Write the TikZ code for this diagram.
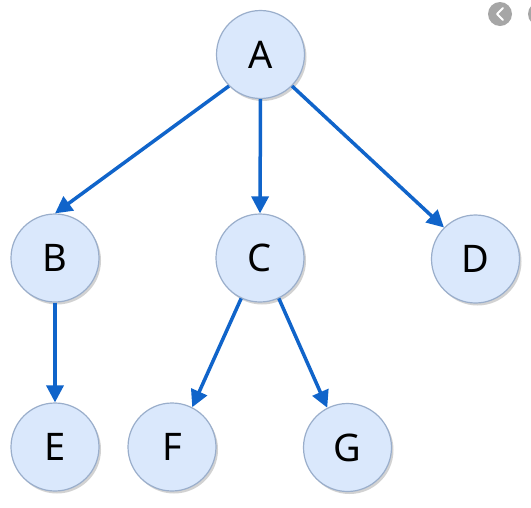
\documentclass[tikz,border=0pt]{standalone}
\usepackage{fontspec}
\setmainfont{Noto Sans}
\usetikzlibrary{arrows.meta,shadows}
\definecolor{nodefill}{HTML}{DAE8FC}
\definecolor{nodeline}{HTML}{9AAECB}
\definecolor{edgeblue}{HTML}{1064CA}
\tikzset{
  treenode/.style={circle, minimum size=88pt, inner sep=0pt, fill=nodefill, draw=nodeline, line width=1.2pt,
    font=\fontsize{38}{38}\selectfont,
    drop shadow={shadow xshift=2pt, shadow yshift=-2.5pt, fill=black!35, opacity=0.5}},
  edge/.style={draw=edgeblue, line width=3.5pt, -{Triangle[length=17pt,width=17pt]}}
}
\begin{document}
\begin{tikzpicture}[x=1pt,y=-1pt]
\useasboundingbox (0,0) rectangle (531,507);
\fill[white] (0,0) rectangle (531,507);
\node[treenode] (A) at (260.5,54.5) {A};
\node[treenode] (B) at (55,258) {B};
\node[treenode] (C) at (260,258) {C};
\node[treenode] (D) at (475.5,259) {D};
\node[treenode] (E) at (55,447) {E};
\node[treenode] (F) at (172,447) {F};
\node[treenode] (G) at (347.5,447.5) {G};
\draw[edge] (A.225) -- (B.north);
\draw[edge] (A.south) -- (C.north);
\draw[edge] (A.-45) -- (D.135);
\draw[edge] (B.south) -- (E.north);
\draw[edge] (C.245) -- (F.63);
\draw[edge] (C.-65) -- (G.117);
% browser icons
\fill[black!35] (500,14) circle (12);
\draw[white, line width=2pt, line cap=round, line join=round] (503,8) -- (497,14) -- (503,20);
\fill[black!35] (540,14) circle (12);
\end{tikzpicture}
\end{document}
